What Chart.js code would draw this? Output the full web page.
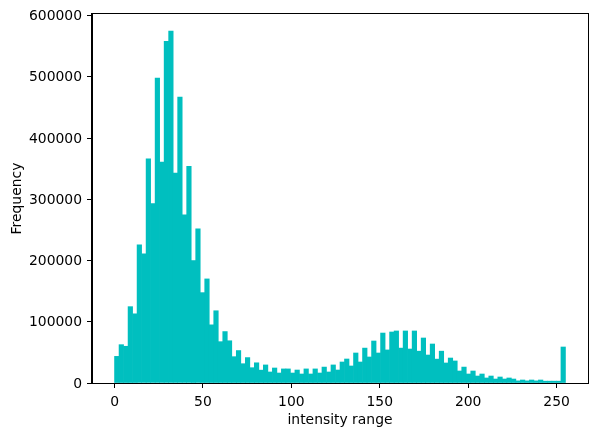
<!DOCTYPE html>
<html>
<head>
<meta charset="utf-8">
<title>Histogram</title>
<script src="https://cdn.jsdelivr.net/npm/chart.js@4"></script>
<style>
  html, body { margin: 0; padding: 0; background: #fff; }
  #wrap { width: 609px; height: 437px; }
</style>
</head>
<body>
<div id="wrap"><canvas id="hist" width="609" height="437"></canvas></div>
<script>
// Bin centres (100 bins, 0-255)
const binCenters = [
  1.275, 3.825, 6.375, 8.925, 11.475, 14.025, 16.575, 19.125, 21.675, 24.225,
  26.775, 29.325, 31.875, 34.425, 36.975, 39.525, 42.075, 44.625, 47.175, 49.725,
  52.275, 54.825, 57.375, 59.925, 62.475, 65.025, 67.575, 70.125, 72.675, 75.225,
  77.775, 80.325, 82.875, 85.425, 87.975, 90.525, 93.075, 95.625, 98.175, 100.725,
  103.275, 105.825, 108.375, 110.925, 113.475, 116.025, 118.575, 121.125, 123.675, 126.225,
  128.775, 131.325, 133.875, 136.425, 138.975, 141.525, 144.075, 146.625, 149.175, 151.725,
  154.275, 156.825, 159.375, 161.925, 164.475, 167.025, 169.575, 172.125, 174.675, 177.225,
  179.775, 182.325, 184.875, 187.425, 189.975, 192.525, 195.075, 197.625, 200.175, 202.725,
  205.275, 207.825, 210.375, 212.925, 215.475, 218.025, 220.575, 223.125, 225.675, 228.225,
  230.775, 233.325, 235.875, 238.425, 240.975, 243.525, 246.075, 248.625, 251.175, 253.725
];

// Frequencies
const frequency = [
  43500, 62600, 60000, 124700, 113000, 225800, 211000, 366000, 293000, 498000,
  361000, 558000, 575000, 343000, 467000, 274500, 354000, 200000, 252000, 147600,
  170000, 95000, 118000, 67500, 84000, 69000, 43000, 53000, 31500, 41500,
  25000, 33000, 21000, 29500, 18000, 24500, 16300, 23000, 23000, 16300,
  21200, 14700, 23000, 14700, 23000, 16300, 26000, 18000, 29500, 21200,
  34300, 39200, 27800, 49000, 34300, 57000, 42500, 68600, 49000, 81600,
  54000, 83300, 85000, 57000, 85000, 55500, 85000, 52000, 73500, 45700,
  63700, 39000, 52000, 32700, 40800, 36000, 19600, 26000, 14700, 19600,
  11400, 14700, 8200, 11400, 6500, 9800, 6500, 8200, 6500, 3500,
  4900, 3500, 4900, 3500, 4900, 3000, 3000, 3000, 3000, 58800
];

const xTicks = [0, 50, 100, 150, 200, 250];
const yTicks = [0, 100000, 200000, 300000, 400000, 500000, 600000];

const barColor = "#00bfbf";
const fontFamily = "'DejaVu Sans', sans-serif";
const fontSize = 13.9;

// Chart.js has no top/right spine, so stroke the whole plot box
const boxPlugin = {
  id: "box",
  afterDraw(chart) {
    const { ctx, chartArea: a } = chart;
    ctx.save();
    ctx.strokeStyle = "#000";
    ctx.lineWidth = 1;
    ctx.strokeRect(a.left - 0.5, a.top - 0.5, a.right - a.left + 1, a.bottom - a.top + 1);
    ctx.restore();
  },
};

new Chart(document.getElementById("hist"), {
  type: "bar",
  data: {
    datasets: [
      {
        data: binCenters.map((x, i) => ({ x: x, y: frequency[i] })),
        backgroundColor: barColor,
        borderWidth: 0,
        categoryPercentage: 1,
        barPercentage: 1,
      },
    ],
  },
  options: {
    responsive: false,
    animation: false,
    devicePixelRatio: 1,
    layout: { padding: { top: 14, right: 21, left: 0, bottom: 0 } },
    plugins: { legend: { display: false }, tooltip: { enabled: false } },
    scales: {
      x: {
        type: "linear",
        offset: false,
        min: -12.75,
        max: 267.75,
        afterBuildTicks(axis) { axis.ticks = xTicks.map((v) => ({ value: v })); },
        afterFit(axis) { axis.height = 54; },
        grid: { display: true, offset: false, drawOnChartArea: false, tickLength: 5, tickColor: "#000", tickWidth: 1 },
        border: { color: "#000" },
        ticks: {
          maxRotation: 0,
          autoSkip: false,
          color: "#000",
          padding: 6,
          font: { family: fontFamily, size: fontSize },
          callback: (v) => String(v),
        },
        title: {
          display: true,
          text: "intensity range",
          color: "#000",
          padding: { top: 4, bottom: 8 },
          font: { family: fontFamily, size: fontSize },
        },
      },
      y: {
        min: 0,
        max: 602700,
        afterBuildTicks(axis) { axis.ticks = yTicks.map((v) => ({ value: v })); },
        afterFit(axis) { axis.width = 92; },
        grid: { display: true, drawOnChartArea: false, tickLength: 5, tickColor: "#000", tickWidth: 1 },
        border: { color: "#000" },
        ticks: {
          autoSkip: false,
          color: "#000",
          padding: 5,
          labelOffset: 1,
          font: { family: fontFamily, size: fontSize },
          callback: (v) => String(v),
        },
        title: {
          display: true,
          text: "Frequency",
          color: "#000",
          padding: { top: 9, bottom: 4 },
          font: { family: fontFamily, size: fontSize },
        },
      },
    },
  },
  plugins: [boxPlugin],
});
</script>
</body>
</html>
